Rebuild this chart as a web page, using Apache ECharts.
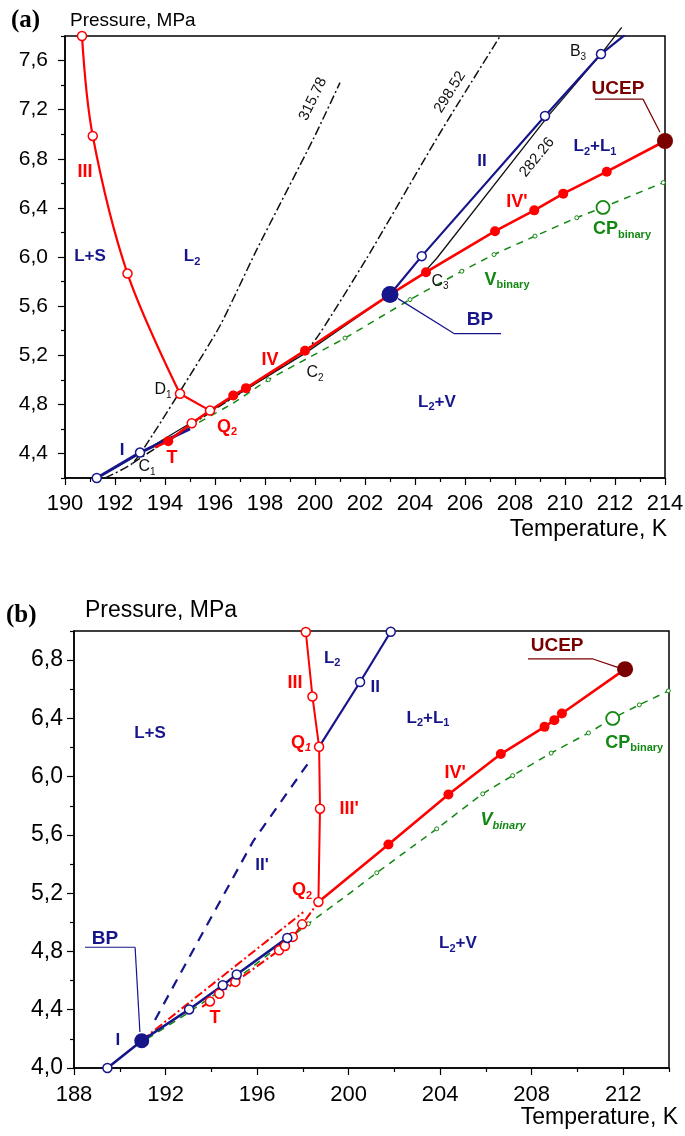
<!DOCTYPE html>
<html>
<head>
<meta charset="utf-8">
<script src="https://cdn.jsdelivr.net/npm/echarts@6/dist/echarts.min.js"></script>
<style>
  html, body { margin: 0; padding: 0; background: #fff; }
  #chart { width: 685px; height: 1136px; }
</style>
</head>
<body>
<div id="chart"></div>
<script>
// ---- panel (a) data : Temperature K / Pressure MPa ----
const aTempTicks = [190, 192, 194, 196, 198, 200, 202, 204, 206, 208, 210, 212, 214];
const aTempMinor = [191, 193, 195, 197, 199, 201, 203, 205, 207, 209, 211, 213];
const aPresTicks = [4.4, 4.8, 5.2, 5.6, 6.0, 6.4, 6.8, 7.2, 7.6];
const aPresMinor = [4.2, 4.6, 5.0, 5.4, 5.8, 6.2, 6.6, 7.0, 7.4, 7.8];

const aRedIII = [[190.68, 7.8], [191.11, 6.986], [192.5, 5.865], [194.6, 4.886]];
const aRedD1Q2 = [[194.6, 4.886], [195.8, 4.749]];
const aRedIV = [[193.6, 4.45], [194.13, 4.5], [195.07, 4.646], [195.8, 4.749], [196.73, 4.872], [197.24, 4.932],
  [199.6, 5.237], [203.0, 5.694], [204.44, 5.876], [207.2, 6.21], [208.77, 6.38], [209.93, 6.516], [211.67, 6.695], [214.0, 6.945]];
const aRedDots = [[194.13, 4.5], [196.73, 4.872], [197.24, 4.932], [199.6, 5.237], [204.44, 5.876], [207.2, 6.21],
  [208.77, 6.38], [209.93, 6.516], [211.67, 6.695]];
const aRedOpen = [[190.68, 7.8], [191.11, 6.986], [192.5, 5.865], [194.6, 4.886], [195.8, 4.749], [195.07, 4.646]];
const aBlueI = [[191.27, 4.2], [193.0, 4.407], [195.0, 4.6]];
const aBlueII = [[203.0, 5.694], [204.27, 6.007], [209.2, 7.149], [211.44, 7.653], [212.4, 7.81]];
const aBlueOpen = [[191.27, 4.2], [193.0, 4.407], [204.27, 6.007], [209.2, 7.149], [211.44, 7.653], [212.4, 7.81]];
const aIso282 = [[191.3, 4.2], [193.0, 4.4], [197.0, 4.89], [199.6, 5.215], [203.0, 5.694], [204.3, 5.86],
  [204.87, 5.99], [209.33, 7.15], [211.44, 7.653], [212.27, 7.871]];
const aIso315 = [[191.6, 4.2], [192.7, 4.32], [193.5, 4.55], [194.8, 4.97], [196.2, 5.44], [197.67, 6.06],
  [199.93, 6.96], [201.0, 7.42]];
const aIso298 = [[192.7, 4.32], [196.0, 4.76], [199.67, 5.245], [200.2, 5.38], [202.07, 5.99], [205.0, 7.01], [207.47, 7.82]];
const aVbinary = [[194.0, 4.5], [196.73, 4.81], [198.13, 5.0], [201.2, 5.34], [203.8, 5.653], [205.87, 5.884],
  [207.16, 6.02], [208.8, 6.17], [210.47, 6.32], [211.52, 6.404], [213.93, 6.606], [214.0, 6.61]];
const aVbinaryMarks = [[198.13, 5.0], [201.2, 5.34], [203.8, 5.653], [205.87, 5.884], [207.16, 6.02], [208.8, 6.17],
  [210.47, 6.32], [213.93, 6.606]];
const aBP = [[203.0, 5.694]];
const aUCEP = [[214.0, 6.945]];
const aCP = [[211.52, 6.404]];
const aBPArrow = [[207.44, 5.376], [205.56, 5.376], [203.32, 5.661]];
const aUCEPArrow = [[211.2, 7.286], [213.12, 7.286], [213.8, 7.016]];
const aLabels = [
  [190.8, 6.69, '{rb|III}'],
  [191.0, 6.004, '{nb|L+S}'],
  [195.08, 6.004, '{nb|L}{nbs|2}'],
  [193.92, 4.918, '{k|D}{ks|1}'],
  [198.2, 5.163, '{rb|IV}'],
  [200.0, 5.057, '{k|C}{ks|2}'],
  [196.48, 4.616, '{rb|Q}{rbs|2}'],
  [192.28, 4.429, '{nb|I}'],
  [194.28, 4.363, '{rb|T}'],
  [193.28, 4.29, '{k|C}{ks|1}'],
  [204.88, 4.82, '{nb|L}{nbs|2}{nb|+V}'],
  [206.6, 5.49, '{nbl|BP}'],
  [205.0, 5.8, '{k|C}{ks|3}'],
  [207.68, 5.816, '{gb|V}{gbs|binary}'],
  [206.68, 6.78, '{nb|II}'],
  [210.52, 7.669, '{k|B}{ks|3}'],
  [212.12, 7.367, '{db|UCEP}'],
  [211.2, 6.902, '{nb|L}{nbs|2}{nb|+L}{nbs|1}'],
  [208.08, 6.445, "{rb|IV'}"],
  [212.28, 6.224, '{gb|CP}{gbs|binary}'],
  [199.92, 7.286, '{kr|315.78}'],
  [205.4, 7.343, '{kr|298.52}'],
  [208.88, 6.812, '{kr|282.26}']
];

// ---- panel (b) data ----
const bTempTicks = [188, 192, 196, 200, 204, 208, 212];
const bTempMinor = [190, 194, 198, 202, 206, 210, 214];
const bPresTicks = [4.0, 4.4, 4.8, 5.2, 5.6, 6.0, 6.4, 6.8];
const bPresMinor = [4.2, 4.6, 5.0, 5.4, 5.8, 6.2, 6.6, 7.0];

const bRedIII = [[198.13, 6.993], [198.42, 6.55], [198.71, 6.205], [198.75, 5.78], [198.68, 5.14]];
const bRedIV = [[198.68, 5.14], [201.74, 5.534], [204.36, 5.877], [206.65, 6.155], [208.56, 6.342], [208.99, 6.388],
  [209.32, 6.434], [212.08, 6.738]];
const bRedDots = [[201.74, 5.534], [204.36, 5.877], [206.65, 6.155], [208.56, 6.342], [208.99, 6.388], [209.32, 6.434]];
const bRedDashUpper = [[190.96, 4.19], [198.02, 5.07]];
const bRedDashLower = [[193.6, 4.42], [193.94, 4.457], [194.35, 4.51], [195.05, 4.591], [196.96, 4.808], [197.22, 4.838],
  [197.56, 4.9], [197.97, 4.986], [198.68, 5.14]];
const bRedOpen = [[198.13, 6.993], [198.42, 6.55], [198.71, 6.205], [198.75, 5.78], [198.68, 5.14], [193.94, 4.457],
  [194.35, 4.51], [195.05, 4.591], [196.96, 4.808], [197.22, 4.838], [197.56, 4.9], [197.97, 4.986]];
const bBlueI = [[189.46, 4.0], [190.96, 4.187], [193.03, 4.402], [194.5, 4.568], [195.11, 4.642], [197.32, 4.893]];
const bBlueII = [[198.71, 6.205], [200.5, 6.65], [201.84, 6.995]];
const bBlueIIdash = [[191.54, 4.33], [193.7, 4.95], [195.84, 5.56], [198.31, 6.11]];
const bBlueOpen = [[189.46, 4.0], [193.03, 4.402], [194.5, 4.568], [195.11, 4.642], [197.32, 4.893], [200.5, 6.65], [201.84, 6.995]];
const bVbinary = [[191.2, 4.2], [193.0, 4.38], [195.0, 4.6], [198.24, 4.99], [199.92, 5.185], [201.23, 5.34], [203.85, 5.642],
  [205.86, 5.882], [207.17, 6.007], [208.85, 6.162], [210.48, 6.3], [211.54, 6.4], [212.7, 6.493], [214.0, 6.59]];
const bVbinaryMarks = [[198.24, 4.99], [201.23, 5.34], [203.85, 5.642], [205.86, 5.882], [207.17, 6.007], [208.85, 6.162],
  [210.48, 6.3], [212.7, 6.493], [213.97, 6.589]];
const bBP = [[190.96, 4.187]];
const bUCEP = [[212.08, 6.738]];
const bCP = [[211.54, 6.4]];
const bBPArrow = [[188.48, 4.829], [190.67, 4.829], [190.88, 4.247]];
const bUCEPArrow = [[207.84, 6.808], [210.68, 6.808], [211.79, 6.749]];
const bLabels = [
  [191.32, 6.295, '{nb|L+S}'],
  [197.66, 6.644, '{rb|III}'],
  [199.28, 6.815, '{nb|L}{nbs|2}'],
  [201.16, 6.616, '{nb|II}'],
  [197.92, 6.233, '{rb|Q}{rbsi|1}'],
  [200.02, 5.781, "{rb|III'}"],
  [203.47, 6.404, '{nb|L}{nbs|2}{nb|+L}{nbs|1}'],
  [204.65, 6.027, "{rb|IV'}"],
  [206.75, 5.699, '{gbi|V}{gbsi|binary}'],
  [212.48, 6.233, '{gb|CP}{gbs|binary}'],
  [209.11, 6.897, '{db|UCEP}'],
  [196.22, 5.39, "{nb|II'}"],
  [197.97, 5.219, '{rb|Q}{rbs|2}'],
  [189.35, 4.89, '{nbl|BP}'],
  [189.92, 4.19, '{nb|I}'],
  [194.16, 4.342, '{rb|T}'],
  [204.78, 4.856, '{nb|L}{nbs|2}{nb|+V}']
];

const isoRotate = { '{kr|315.78}': 64, '{kr|298.52}': 58, '{kr|282.26}': 51 };

const FONT = 'Liberation Sans, Arial, sans-serif';
const NAVY = '#16168a';
const RED = '#ff0000';
const GREEN = '#128812';
const DARKRED = '#7a0000';

const sub = (color, italic, bold) => ({
  fontFamily: FONT, fontSize: 11, color: color, fontWeight: bold ? 'bold' : 'normal',
  fontStyle: italic ? 'italic' : 'normal', padding: [11, 0, 0, 0]
});
const rich = {
  nb: { fontFamily: FONT, fontSize: 17, fontWeight: 'bold', color: NAVY },
  nbs: sub(NAVY, false, true),
  nbl: { fontFamily: FONT, fontSize: 19, fontWeight: 'bold', color: NAVY },
  rb: { fontFamily: FONT, fontSize: 18, fontWeight: 'bold', color: RED },
  rbs: sub(RED, false, true),
  rbsi: sub(RED, true, true),
  gb: { fontFamily: FONT, fontSize: 18, fontWeight: 'bold', color: GREEN },
  gbs: sub(GREEN, false, true),
  gbi: { fontFamily: FONT, fontSize: 18, fontWeight: 'bold', fontStyle: 'italic', color: GREEN },
  gbsi: sub(GREEN, true, true),
  k: { fontFamily: FONT, fontSize: 16, color: '#111' },
  ks: { fontFamily: FONT, fontSize: 10, color: '#111', padding: [10, 0, 0, 0] },
  kr: { fontFamily: FONT, fontSize: 15, color: '#111' },
  db: { fontFamily: FONT, fontSize: 19, fontWeight: 'bold', color: DARKRED }
};

const fmtT = v => String(Math.round(v));
const fmtP = v => v.toFixed(1).replace('.', ',');

function majorAxis(grid, min, max, ticks, fmt, fs, margin, name, nameGap, nameStyle) {
  return {
    type: 'value', gridIndex: grid, min: min, max: max,
    name: name, nameLocation: 'end', nameGap: nameGap, nameTextStyle: nameStyle, nameMoveOverlap: false,
    axisLine: { show: true, onZero: false, lineStyle: { color: '#000', width: 1.5 } },
    axisTick: { show: true, inside: false, length: 7, customValues: ticks, lineStyle: { color: '#000', width: 1.2 } },
    axisLabel: { customValues: ticks, formatter: fmt, fontSize: fs, fontFamily: FONT, color: '#000', margin: margin },
    splitLine: { show: false }
  };
}
function minorAxis(grid, min, max, ticks, pos) {
  return {
    type: 'value', gridIndex: grid, min: min, max: max, position: pos, offset: 0,
    axisLine: { show: false, onZero: false },
    axisTick: { show: true, inside: false, length: 4, customValues: ticks, lineStyle: { color: '#000', width: 1.2 } },
    axisLabel: { show: false },
    splitLine: { show: false }
  };
}

function lineS(p, data, color, width, type, smooth, extra) {
  return Object.assign({
    type: 'line', xAxisIndex: p * 2, yAxisIndex: p * 2, data: data, symbol: 'none', smooth: smooth || false,
    lineStyle: { color: color, width: width, type: type || 'solid' }, silent: true, z: 2
  }, extra || {});
}
function dotS(p, data, color, size, open, border) {
  return {
    type: 'scatter', xAxisIndex: p * 2, yAxisIndex: p * 2, data: data, symbol: 'circle', symbolSize: size,
    itemStyle: open ? { color: '#fff', borderColor: color, borderWidth: border || 1.5, opacity: 1 } : { color: color, opacity: 1 },
    silent: true, z: 4
  };
}
function arrowS(p, pts, color) {
  return {
    type: 'line', xAxisIndex: p * 2, yAxisIndex: p * 2, data: pts.slice(0, 2), symbol: 'none',
    lineStyle: { color: color, width: 1.2 }, silent: true, z: 5,
    markLine: {
      silent: true, symbol: ['none', 'arrow'], symbolSize: [0, 10],
      lineStyle: { color: color, width: 1.2, type: 'solid' }, label: { show: false },
      data: [[{ coord: pts[1] }, { coord: pts[2] }]]
    }
  };
}
function labelS(p, labels) {
  return {
    type: 'scatter', xAxisIndex: p * 2, yAxisIndex: p * 2, symbolSize: 1, silent: true, z: 6,
    itemStyle: { color: 'rgba(0,0,0,0)', opacity: 1 },
    data: labels.map(l => ({
      value: [l[0], l[1]],
      label: { show: true, position: 'inside', formatter: l[2], rotate: isoRotate[l[2]] || 0, rich: rich, opacity: 1 }
    }))
  };
}

const DASHDOT = [9, 3, 2, 3];
const NAME_A = { fontFamily: FONT, fontSize: 19, color: '#000', align: 'left', padding: [0, 0, 0, 5] };
const NAME_B = { fontFamily: FONT, fontSize: 23, color: '#000', align: 'left', padding: [0, 0, 0, 11] };

const option = {
  animation: false,
  backgroundColor: '#fff',
  title: [
    { text: '(a)', left: 6, top: 3, textStyle: { fontFamily: 'Liberation Serif, Times New Roman, serif', fontWeight: 'bold', fontSize: 25, color: '#000' } },
    { text: '(b)', left: 1, top: 598, textStyle: { fontFamily: 'Liberation Serif, Times New Roman, serif', fontWeight: 'bold', fontSize: 25, color: '#000' } }
  ],
  grid: [
    { left: 65, right: 20, top: 36, height: 442, outerBoundsMode: 'none', containLabel: false,
      show: true, borderColor: '#000', borderWidth: 1.5, backgroundColor: 'transparent' },
    { left: 74, right: 16, top: 631, height: 437, outerBoundsMode: 'none', containLabel: false,
      show: true, borderColor: '#000', borderWidth: 1.5, backgroundColor: 'transparent' }
  ],
  xAxis: [
    majorAxis(0, 190, 214, aTempTicks, fmtT, 22, 15, 'Temperature, K', 2,
      { fontFamily: FONT, fontSize: 23, color: '#000', align: 'right', verticalAlign: 'top', padding: [40, 0, 0, 0] }),
    minorAxis(0, 190, 214, aTempMinor, 'bottom'),
    majorAxis(1, 188, 214, bTempTicks, fmtT, 22, 16, 'Temperature, K', 9,
      { fontFamily: FONT, fontSize: 23, color: '#000', align: 'right', verticalAlign: 'top', padding: [38, 0, 0, 0] }),
    minorAxis(1, 188, 214, bTempMinor, 'bottom')
  ],
  yAxis: [
    majorAxis(0, 4.2, 7.8, aPresTicks, fmtP, 21, 17, 'Pressure, MPa', 6, NAME_A),
    minorAxis(0, 4.2, 7.8, aPresMinor, 'left'),
    majorAxis(1, 4.0, 7.0, bPresTicks, fmtP, 23, 11, 'Pressure, MPa', 9, NAME_B),
    minorAxis(1, 4.0, 7.0, bPresMinor, 'left')
  ],
  series: [
    // panel (a)
    lineS(0, aIso315, '#111', 1.5, DASHDOT, 0.2),
    lineS(0, aIso298, '#111', 1.5, DASHDOT, 0.2),
    lineS(0, aIso282, '#111', 1.3, 'solid', false, { clip: false }),
    lineS(0, aVbinary, GREEN, 1.5, [7, 6], 0.2),
    lineS(0, aBlueI, NAVY, 3),
    lineS(0, aBlueII, NAVY, 2.2),
    lineS(0, aRedIII, RED, 2.2, 'solid', 0.35),
    lineS(0, aRedD1Q2, RED, 2.2),
    lineS(0, aRedIV, RED, 2.6),
    dotS(0, aVbinaryMarks, GREEN, 4, true, 1),
    dotS(0, aRedDots, RED, 10, false),
    dotS(0, aRedOpen, RED, 9, true),
    dotS(0, aBlueOpen, NAVY, 9, true),
    dotS(0, aCP, GREEN, 13, true, 1.8),
    arrowS(0, aBPArrow, NAVY),
    arrowS(0, aUCEPArrow, DARKRED),
    dotS(0, aBP, NAVY, 17, false),
    dotS(0, aUCEP, DARKRED, 16, false),
    labelS(0, aLabels),
    // panel (b)
    lineS(1, bVbinary, GREEN, 1.5, [7, 6], 0.2),
    lineS(1, bRedDashUpper, RED, 2, DASHDOT),
    lineS(1, bRedDashLower, RED, 2, DASHDOT),
    lineS(1, bBlueIIdash, NAVY, 2.2, [10, 8]),
    lineS(1, bBlueII, NAVY, 2.2),
    lineS(1, bBlueI, NAVY, 2.6),
    lineS(1, bRedIII, RED, 2),
    lineS(1, bRedIV, RED, 2.6),
    dotS(1, bVbinaryMarks, GREEN, 4, true, 1),
    dotS(1, bRedDots, RED, 10, false),
    dotS(1, bRedOpen, RED, 9, true),
    dotS(1, bBlueOpen, NAVY, 9, true),
    dotS(1, bCP, GREEN, 13, true, 1.8),
    arrowS(1, bBPArrow, NAVY),
    arrowS(1, bUCEPArrow, DARKRED),
    dotS(1, bBP, NAVY, 15, false),
    dotS(1, bUCEP, DARKRED, 16, false),
    labelS(1, bLabels)
  ]
};

const chart = echarts.init(document.getElementById('chart'), null, { renderer: 'canvas' });
chart.setOption(option);
window.addEventListener('resize', chart.resize);
</script>
</body>
</html>
